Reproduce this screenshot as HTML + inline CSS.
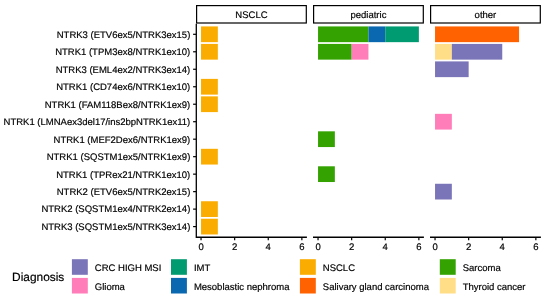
<!DOCTYPE html>
<html><head><meta charset="utf-8"><style>
html,body{margin:0;padding:0;background:#fff;}
svg{display:block;}
text{text-rendering:geometricPrecision;stroke:#000;stroke-width:0.18px;font-family:"Liberation Sans",Arial,sans-serif;fill:#000;}
.a{font-size:9.5px;}
.s{font-size:9.5px;fill:#000;}
.ti{font-size:11.9px;fill:#000;}
.ax{stroke:#000;stroke-width:1.3;}
.t{stroke:#000;stroke-width:1.2;}
</style></head><body>
<svg width="550" height="302" viewBox="0 0 550 302">
<rect width="550" height="302" fill="#fff"/>
<rect x="196.6" y="5.6" width="109.7" height="17.4" fill="#fff" stroke="#000" stroke-width="1.2"/>
<text x="251.45" y="18.0" text-anchor="middle" class="s">NSCLC</text>
<rect x="313.6" y="5.6" width="109.7" height="17.4" fill="#fff" stroke="#000" stroke-width="1.2"/>
<text x="368.45" y="18.0" text-anchor="middle" class="s">pediatric</text>
<rect x="430.6" y="5.6" width="109.7" height="17.4" fill="#fff" stroke="#000" stroke-width="1.2"/>
<text x="485.45" y="18.0" text-anchor="middle" class="s">other</text>
<rect x="201.04" y="26.43" width="16.8" height="15.73" fill="#FAAC00"/>
<rect x="318.04" y="26.43" width="50.41" height="15.73" fill="#34A302"/>
<rect x="368.45" y="26.43" width="16.8" height="15.73" fill="#0A68B0"/>
<rect x="385.25" y="26.43" width="33.61" height="15.73" fill="#009B70"/>
<rect x="435.04" y="26.43" width="84.02" height="15.73" fill="#FF6200"/>
<text x="190.3" y="37.65" text-anchor="end" class="a">NTRK3 (ETV6ex5/NTRK3ex15)</text>
<line x1="193.1" y1="34.3" x2="196" y2="34.3" class="t"/>
<rect x="201.04" y="43.91" width="16.8" height="15.73" fill="#FAAC00"/>
<rect x="318.04" y="43.91" width="33.61" height="15.73" fill="#34A302"/>
<rect x="351.65" y="43.91" width="16.8" height="15.73" fill="#FF7DB9"/>
<rect x="435.04" y="43.91" width="16.8" height="15.73" fill="#FFDE87"/>
<rect x="451.84" y="43.91" width="50.41" height="15.73" fill="#7A75B8"/>
<text x="190.3" y="55.13" text-anchor="end" class="a">NTRK1 (TPM3ex8/NTRK1ex10)</text>
<line x1="193.1" y1="51.78" x2="196" y2="51.78" class="t"/>
<rect x="435.04" y="61.4" width="33.61" height="15.73" fill="#7A75B8"/>
<text x="190.3" y="72.61" text-anchor="end" class="a">NTRK3 (EML4ex2/NTRK3ex14)</text>
<line x1="193.1" y1="69.26" x2="196" y2="69.26" class="t"/>
<rect x="201.04" y="78.88" width="16.8" height="15.73" fill="#FAAC00"/>
<text x="190.3" y="90.1" text-anchor="end" class="a">NTRK1 (CD74ex6/NTRK1ex10)</text>
<line x1="193.1" y1="86.75" x2="196" y2="86.75" class="t"/>
<rect x="201.04" y="96.36" width="16.8" height="15.73" fill="#FAAC00"/>
<text x="190.3" y="107.58" text-anchor="end" class="a">NTRK1 (FAM118Bex8/NTRK1ex9)</text>
<line x1="193.1" y1="104.23" x2="196" y2="104.23" class="t"/>
<rect x="435.04" y="113.84" width="16.8" height="15.73" fill="#FF7DB9"/>
<text x="190.3" y="125.06" text-anchor="end" class="a">NTRK1 (LMNAex3del17/ins2bpNTRK1ex11)</text>
<line x1="193.1" y1="121.71" x2="196" y2="121.71" class="t"/>
<rect x="318.04" y="131.32" width="16.8" height="15.73" fill="#34A302"/>
<text x="190.3" y="142.54" text-anchor="end" class="a">NTRK1 (MEF2Dex6/NTRK1ex9)</text>
<line x1="193.1" y1="139.19" x2="196" y2="139.19" class="t"/>
<rect x="201.04" y="148.81" width="16.8" height="15.73" fill="#FAAC00"/>
<text x="190.3" y="160.02" text-anchor="end" class="a">NTRK1 (SQSTM1ex5/NTRK1ex9)</text>
<line x1="193.1" y1="156.67" x2="196" y2="156.67" class="t"/>
<rect x="318.04" y="166.29" width="16.8" height="15.73" fill="#34A302"/>
<text x="190.3" y="177.5" text-anchor="end" class="a">NTRK1 (TPRex21/NTRK1ex10)</text>
<line x1="193.1" y1="174.15" x2="196" y2="174.15" class="t"/>
<rect x="435.04" y="183.77" width="16.8" height="15.73" fill="#7A75B8"/>
<text x="190.3" y="194.99" text-anchor="end" class="a">NTRK2 (ETV6ex5/NTRK2ex15)</text>
<line x1="193.1" y1="191.64" x2="196" y2="191.64" class="t"/>
<rect x="201.04" y="201.25" width="16.8" height="15.73" fill="#FAAC00"/>
<text x="190.3" y="212.47" text-anchor="end" class="a">NTRK2 (SQSTM1ex4/NTRK2ex14)</text>
<line x1="193.1" y1="209.12" x2="196" y2="209.12" class="t"/>
<rect x="201.04" y="218.73" width="16.8" height="15.73" fill="#FAAC00"/>
<text x="190.3" y="229.95" text-anchor="end" class="a">NTRK3 (SQSTM1ex5/NTRK3ex14)</text>
<line x1="193.1" y1="226.6" x2="196" y2="226.6" class="t"/>
<line x1="196.3" y1="23.8" x2="196.3" y2="237.9" class="ax"/>
<line x1="196" y1="237.25" x2="306.9" y2="237.25" class="ax"/>
<line x1="201.04" y1="237.25" x2="201.04" y2="240.15" class="t"/>
<text x="201.04" y="249.6" text-anchor="middle" class="a">0</text>
<line x1="234.65" y1="237.25" x2="234.65" y2="240.15" class="t"/>
<text x="234.65" y="249.6" text-anchor="middle" class="a">2</text>
<line x1="268.25" y1="237.25" x2="268.25" y2="240.15" class="t"/>
<text x="268.25" y="249.6" text-anchor="middle" class="a">4</text>
<line x1="301.86" y1="237.25" x2="301.86" y2="240.15" class="t"/>
<text x="301.86" y="249.6" text-anchor="middle" class="a">6</text>
<line x1="313" y1="237.25" x2="423.9" y2="237.25" class="ax"/>
<line x1="318.04" y1="237.25" x2="318.04" y2="240.15" class="t"/>
<text x="318.04" y="249.6" text-anchor="middle" class="a">0</text>
<line x1="351.65" y1="237.25" x2="351.65" y2="240.15" class="t"/>
<text x="351.65" y="249.6" text-anchor="middle" class="a">2</text>
<line x1="385.25" y1="237.25" x2="385.25" y2="240.15" class="t"/>
<text x="385.25" y="249.6" text-anchor="middle" class="a">4</text>
<line x1="418.86" y1="237.25" x2="418.86" y2="240.15" class="t"/>
<text x="418.86" y="249.6" text-anchor="middle" class="a">6</text>
<line x1="430" y1="237.25" x2="540.9" y2="237.25" class="ax"/>
<line x1="435.04" y1="237.25" x2="435.04" y2="240.15" class="t"/>
<text x="435.04" y="249.6" text-anchor="middle" class="a">0</text>
<line x1="468.65" y1="237.25" x2="468.65" y2="240.15" class="t"/>
<text x="468.65" y="249.6" text-anchor="middle" class="a">2</text>
<line x1="502.25" y1="237.25" x2="502.25" y2="240.15" class="t"/>
<text x="502.25" y="249.6" text-anchor="middle" class="a">4</text>
<line x1="535.86" y1="237.25" x2="535.86" y2="240.15" class="t"/>
<text x="535.86" y="249.6" text-anchor="middle" class="a">6</text>
<text x="12.1" y="280.9" class="ti">Diagnosis</text>
<rect x="71.9" y="259.2" width="15.9" height="15.6" fill="#7A75B8"/>
<text x="94.8" y="271" class="a">CRC HIGH MSI</text>
<rect x="71.9" y="277.9" width="15.9" height="15.6" fill="#FF7DB9"/>
<text x="94.8" y="289.7" class="a">Glioma</text>
<rect x="171" y="259.2" width="15.9" height="15.6" fill="#009B70"/>
<text x="193.9" y="271" class="a">IMT</text>
<rect x="171" y="277.9" width="15.9" height="15.6" fill="#0A68B0"/>
<text x="193.9" y="289.7" class="a">Mesoblastic nephroma</text>
<rect x="299.9" y="259.2" width="15.9" height="15.6" fill="#FAAC00"/>
<text x="322.8" y="271" class="a">NSCLC</text>
<rect x="299.9" y="277.9" width="15.9" height="15.6" fill="#FF6200"/>
<text x="322.8" y="289.7" class="a">Salivary gland carcinoma</text>
<rect x="439.8" y="259.2" width="15.9" height="15.6" fill="#34A302"/>
<text x="462.7" y="271" class="a">Sarcoma</text>
<rect x="439.8" y="277.9" width="15.9" height="15.6" fill="#FFDE87"/>
<text x="462.7" y="289.7" class="a">Thyroid cancer</text>
</svg>
</body></html>
